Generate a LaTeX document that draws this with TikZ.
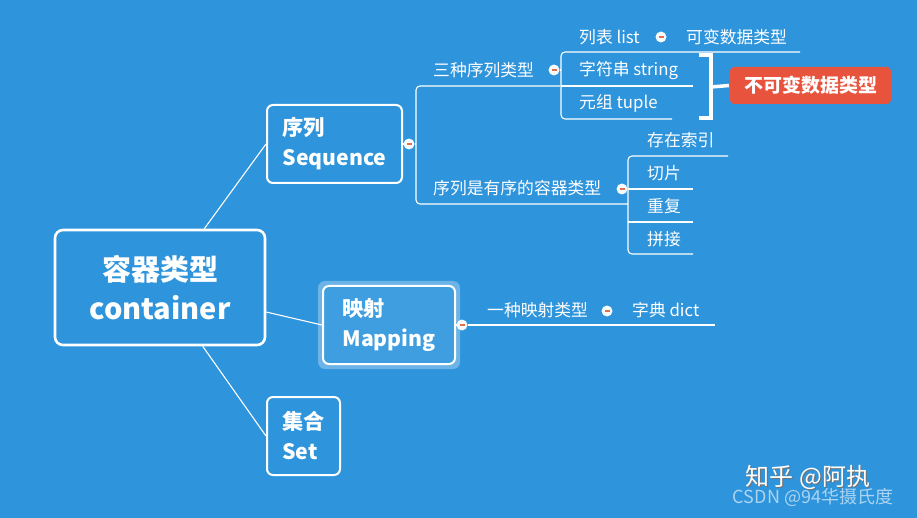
\documentclass[tikz,border=0pt]{standalone}
\usepackage{fontspec}
\setmainfont{Noto Sans CJK SC}
\definecolor{bg}{HTML}{2E94DC}
\definecolor{mapfill}{HTML}{3E9EE0}
\definecolor{glow}{HTML}{6CB4E7}
\definecolor{hot}{HTML}{E7533C}
\definecolor{minus}{HTML}{E2704F}
\tikzset{
  fold/.style={circle,fill=white!95!bg,minimum size=11pt,inner sep=0pt,
    path picture={\draw[minus,line width=1.1pt]
      ([xshift=3pt]path picture bounding box.west) --
      ([xshift=-3pt]path picture bounding box.east);}},
}
\begin{document}
\begin{tikzpicture}[x=1pt,y=-1pt]

        \fill[bg] (0,0) rectangle (917,518);
        \useasboundingbox (0,0) rectangle (917,518);

        \begin{scope}[every node/.style={draw=white,line width=2pt,rounded corners=6pt,
            text=white,align=left,font=\fontsize{21.2}{30}\selectfont\bfseries}]
          \node[line width=2.6pt,rounded corners=8pt,align=center,minimum width=210pt,
            minimum height=115pt,font=\fontsize{29}{39}\selectfont\bfseries]
            (c) at (160,287.5) {容器类型\\container};
          \node[minimum width=135pt,minimum height=78pt] (s) at (334.5,144) {序列\\Sequence};
          \node[draw=none,fill=glow,minimum width=142pt,minimum height=88pt,rounded corners=7pt]
            (mg) at (389,325) {};
          \node[fill=mapfill,minimum width=132pt,minimum height=78pt] (m) at (389,325) {映射\\Mapping};
          \node[minimum width=73pt,minimum height=78pt] (t) at (303.5,436) {集合\\Set};
          \node[draw=none,fill=hot,rounded corners=4pt,minimum width=161pt,minimum height=37pt,
            font=\fontsize{19}{22}\selectfont\bfseries] (r) at (810.5,85.5) {不可变数据类型};
        \end{scope}

        \begin{scope}[every node/.style={fold}]
          \node (k1) at (409,144) {};
          \node (k2) at (554,70) {};
          \node (k3) at (661,37) {};
          \node (k4) at (622,189) {};
          \node (k5) at (462,325) {};
          \node (k6) at (607,311) {};
        \end{scope}

        \begin{scope}[every node/.style={anchor=west,inner sep=0pt,text=white,
            font=\fontsize{16.8}{18}\selectfont}]
          \node (a1) at (433,70) {三种序列类型};
          \node (b1) at (579,37) {列表 list};
          \node (b2) at (686,37) {可变数据类型};
          \node (b3) at (579,70) {字符串 string};
          \node (b4) at (579,103) {元组 tuple};
          \node (a2) at (433,188) {序列是有序的容器类型};
          \node (d1) at (647,140) {存在索引};
          \node (d2) at (647,173) {切片};
          \node (d3) at (647,206) {重复};
          \node (d4) at (647,239) {拼接};
          \node (e1) at (487,310) {一种映射类型};
          \node (e2) at (632,310) {字典 dict};
        \end{scope}

        \coordinate (v1) at (416,144);
        \coordinate (v2) at (561,70);
        \coordinate (v3) at (628,189);
        \coordinate (v4) at (715,325);
        \coordinate (g1) at (711,87);

        \begin{scope}[white,line width=1.1pt]

          \begin{scope}[every edge/.style={draw}]
            \path (c.53)  edge (s.west);
            \path (c.-13) edge (m.west);
            \path (c.-54) edge (t.west);
            \path (s.east) edge (k1);
            \path (k1) edge (v1);
            \path (k2) edge (v2);
            \path (k4) edge (v3);
            \path (m.east) edge (k5);
            \path (k5) edge (v4);
          \end{scope}

          \draw[rounded corners=4pt] (560,86) -- (416,86) -- (416,204) -- (628,204);
          \draw[rounded corners=4pt] (800,52) -- (561,52) -- (561,119) -- (672,119);
          \draw (561,86) -- (693,86);
          \draw[rounded corners=4pt] (728,156) -- (628,156) -- (628,254) -- (693,254);
          \draw (628,189) -- (693,189);
          \draw (628,222) -- (693,222);
          \draw[line width=3.5pt] (699,55) -- (711,55) -- (711,118) -- (699,118);
          \draw[line width=3.5pt] (g1) -- (r.west);
        \end{scope}

        \node[text=black!55,font=\fontsize{24}{26}\selectfont] (w0) at (809,478) {知乎 @阿执};
        \node[text=white,font=\fontsize{24}{26}\selectfont] (w1) at (808,477) {知乎 @阿执};
        \node[text=white,opacity=.6,font=\fontsize{18}{20}\selectfont] (w2) at (813,497) {CSDN @94华摄氏度};

      \end{tikzpicture}
\end{document}
